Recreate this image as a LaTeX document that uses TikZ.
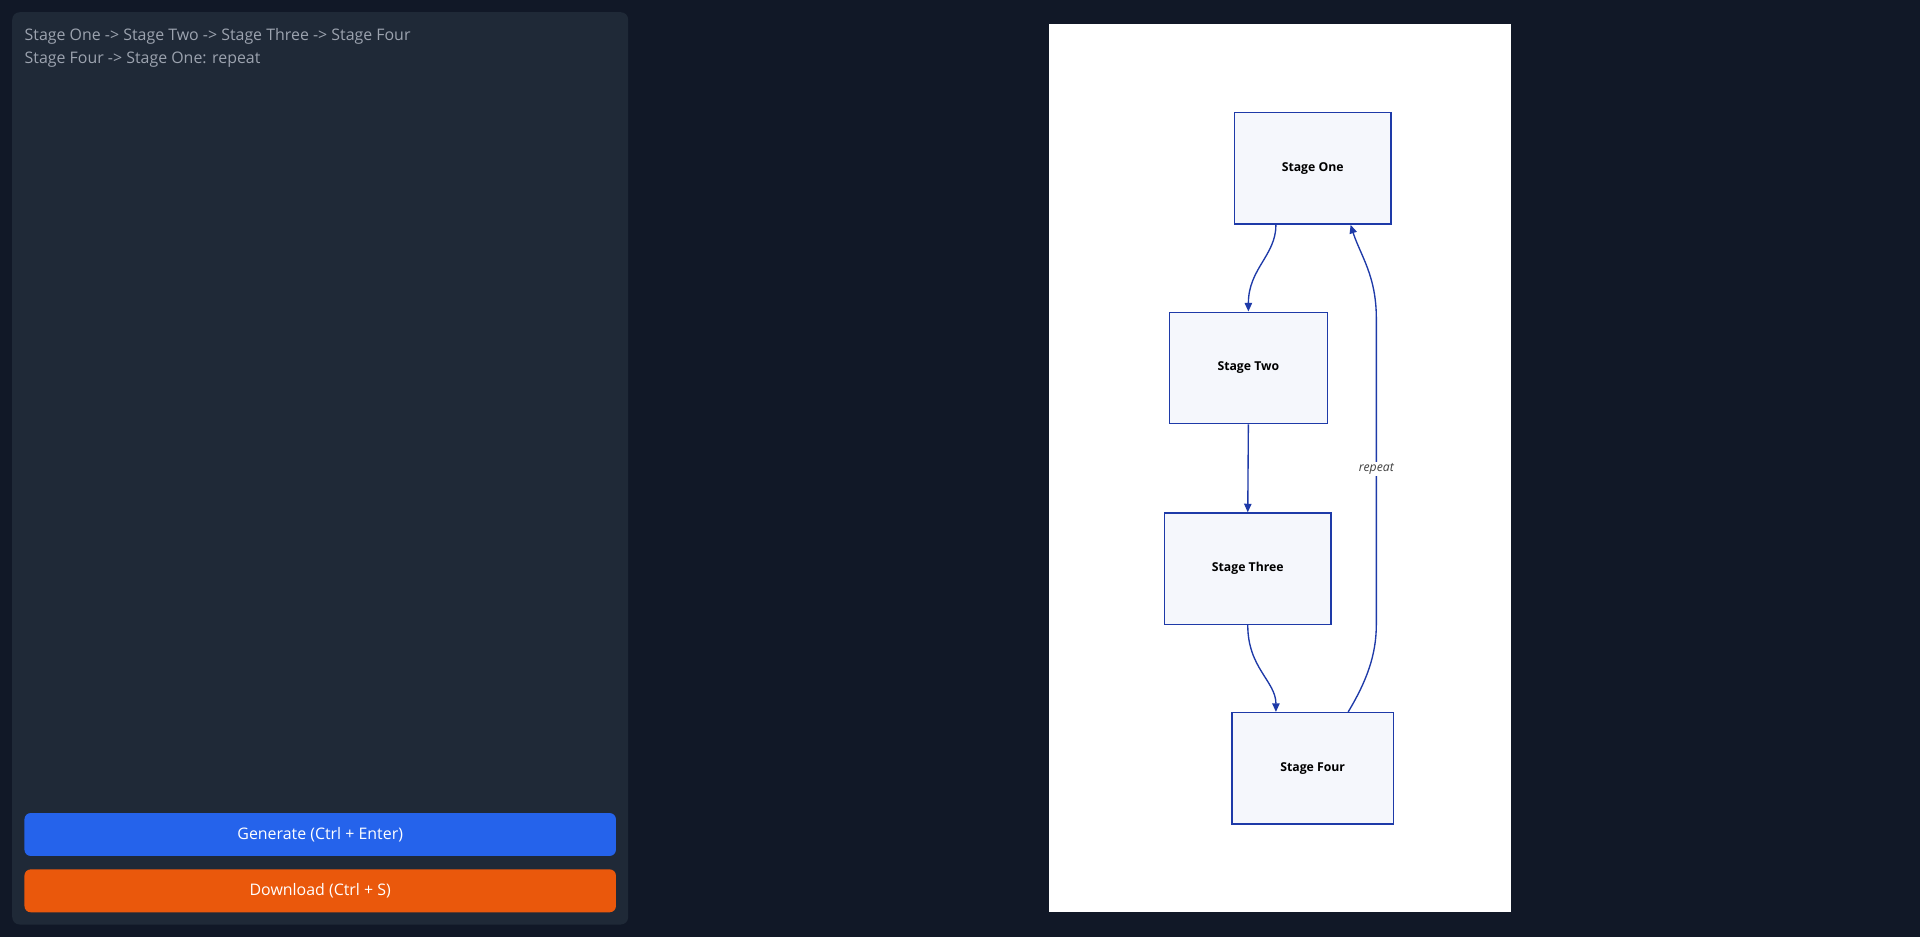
\documentclass[tikz,border=0pt]{standalone}
\usepackage{fontspec}
\setmainfont{Open Sans}
\usetikzlibrary{arrows.meta}
\definecolor{bgdark}{HTML}{111827}
\definecolor{panel}{HTML}{1F2937}
\definecolor{paneltext}{HTML}{9CA3AF}
\definecolor{btnblue}{HTML}{2563EB}
\definecolor{btnorange}{HTML}{EA580C}
\definecolor{boxfill}{HTML}{F5F7FC}
\definecolor{boxline}{HTML}{1E3AA8}
\tikzset{
  stagebox/.style={draw=boxline, fill=boxfill, line width=1.2pt, inner sep=0pt,
    font=\fontsize{10}{12}\selectfont\bfseries, text=black},
  conn/.style={draw=boxline, line width=1.1pt, -{Triangle[length=7pt,width=6pt]}},
  btn/.style={rounded corners=5pt, minimum width=483pt, minimum height=35pt, inner sep=0pt,
    text=white, font=\fontsize{13}{15}\selectfont},
  ptext/.style={anchor=west, text=paneltext, font=\fontsize{13}{15}\selectfont, inner sep=0pt}
}
\begin{document}
\begin{tikzpicture}[x=1pt,y=-1pt]
\fill[bgdark] (0,0) rectangle (1568,765);
\useasboundingbox (0,0) rectangle (1568,765);
\fill[panel, rounded corners=6pt] (10,10) rectangle (513,755);
\node[ptext] (l1) at (20,30) {Stage One -> Stage Two -> Stage Three -> Stage Four};
\node[ptext] (l2) at (20,49) {Stage Four -> Stage One: repeat};
\node[btn, fill=btnblue] (gen) at (261.5,681.5) {Generate (Ctrl + Enter)};
\node[btn, fill=btnorange] (dl) at (261.5,727.5) {Download (Ctrl + S)};
\fill[white] (857,20) rectangle (1234,745);
\node[stagebox, minimum width=128pt, minimum height=91pt] (s1) at (1072,137.5) {Stage One};
\node[stagebox, minimum width=129pt, minimum height=91pt] (s2) at (1019.5,300.5) {Stage Two};
\node[stagebox, minimum width=136pt, minimum height=91pt] (s3) at (1019,464.5) {Stage Three};
\node[stagebox, minimum width=132pt, minimum height=91pt] (s4) at (1072,627.5) {Stage Four};
\draw[conn] ([xshift=-30pt]s1.south) .. controls +(0,25) and +(0,-35) .. (s2.north);
\draw[conn] (s2.south) -- (s3.north);
\draw[conn] (s3.south) .. controls +(0,35) and +(0,-25) .. ([xshift=-30pt]s4.north);
\coordinate (c1) at (1124,510);
\coordinate (c2) at (1124,260);
\draw[conn] ([xshift=29pt]s4.north) .. controls +(15,-25) and +(0,25) .. (c1) -- (c2)
  .. controls +(0,-35) and +(8,25) .. ([xshift=31pt]s1.south);
\node[fill=white, inner sep=1pt, text=black!75, font=\fontsize{10}{12}\selectfont\itshape] (rep) at (1124,383) {repeat};
\end{tikzpicture}
\end{document}
